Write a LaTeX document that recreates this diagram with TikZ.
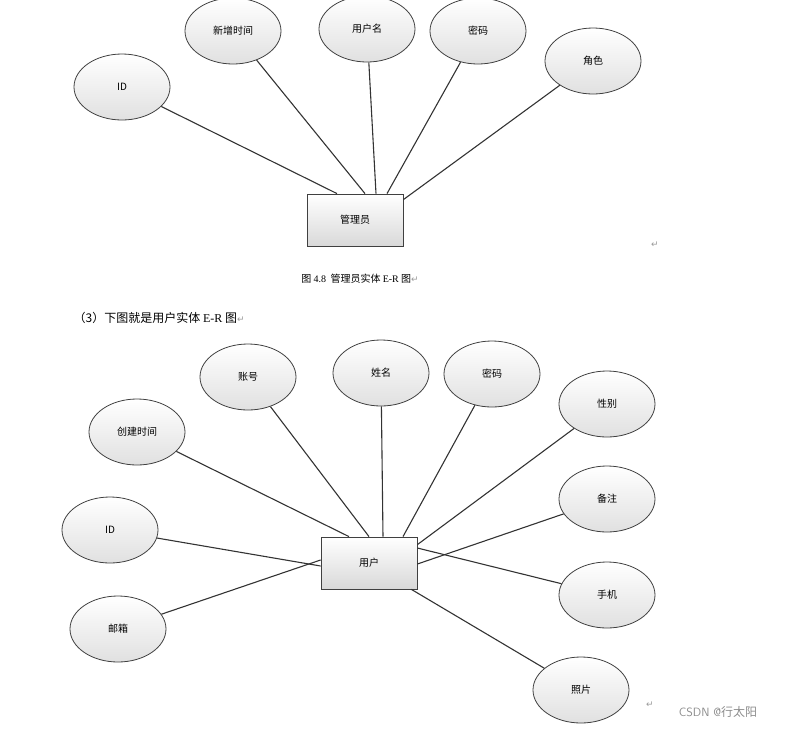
\documentclass[tikz,border=0pt]{standalone}
\usepackage{fontspec}
\newfontfamily\cjk{Noto Sans CJK SC}
\newfontfamily\dejavu{DejaVu Sans}
\setmainfont{Liberation Serif}
\usetikzlibrary{shapes.geometric}
\newcommand{\retsym}{\textcolor{black!40}{\dejavu\small ↵}}

\begin{document}
\begin{tikzpicture}[x=1pt, y=-1pt, thick, every node/.style={font=\cjk}]
    \tikzstyle{attr}=[ellipse, minimum width=96pt, minimum height=66pt, draw=black!75, top color=white, bottom color=black!12]
    \tikzstyle{entity}=[rectangle, minimum width=96pt, minimum height=52pt, draw=black!75, top color=white, bottom color=black!15]
    \tikzstyle{link}=[draw=black!80, line width=1.1pt]
    \useasboundingbox (0,0) rectangle (788,729);

    % Admin entity
    \node[entity] (A) at (355,220) {管理员};
    \node[attr] (A-id) at (122,87) {ID};
    \node[attr] (A-time) at (233,31) {新增时间};
    \node[attr] (A-name) at (367,29) {用户名};
    \node[attr] (A-pwd) at (478,31) {密码};
    \node[attr] (A-role) at (593,61) {角色};

    \draw[link] (A-id) -- ([xshift=-18pt]A.north);
    \draw[link] (A-time) -- ([xshift=10pt]A.north);
    \draw[link] (A-name) -- ([xshift=21pt]A.north);
    \draw[link] (A-pwd) -- ([xshift=32pt]A.north);
    \draw[link] (A-role) -- ([yshift=-6pt]A.north east);

    % Captions
    \node (cap) at (360,279) {\cjk 图 \rmfamily 4.8\cjk\ \ 管理员实体 \rmfamily E-R\cjk\ 图\retsym};
    \node[anchor=west, font=\cjk\large] (head) at (70,318) {\cjk （3）下图就是用户实体 \rmfamily E-R\cjk\ 图\retsym};
    \node (ret1) at (655,245) {\retsym};

    % User entity
    \node[entity] (U) at (369,563) {用户};
    \node[attr] (U-acc) at (248,377) {账号};
    \node[attr] (U-name) at (381,373) {姓名};
    \node[attr] (U-pwd) at (492,374) {密码};
    \node[attr] (U-sex) at (607,404) {性别};
    \node[attr] (U-time) at (137,432) {创建时间};
    \node[attr] (U-note) at (607,499) {备注};
    \node[attr] (U-id) at (110,530) {ID};
    \node[attr] (U-phone) at (607,595) {手机};
    \node[attr] (U-mail) at (118,629) {邮箱};
    \node[attr] (U-photo) at (581,690) {照片};

    \draw[link] (U-acc) -- ([xshift=0pt]U.north);
    \draw[link] (U-name) -- ([xshift=14pt]U.north);
    \draw[link] (U-pwd) -- ([xshift=34pt]U.north);
    \draw[link] (U-sex) -- ([yshift=-8pt]U.north east);
    \draw[link] (U-time) -- ([xshift=-20pt]U.north);
    \draw[link] (U-note) -- ([yshift=-1pt]U.east);
    \draw[link] (U-id) -- ([yshift=-3pt]U.west);
    \draw[link] (U-phone) -- ([yshift=15pt]U.east);
    \draw[link] (U-mail) -- ([yshift=3pt]U.west);
    \draw[link] (U-photo) -- ([xshift=-6pt]U.south east);

    \node (ret2) at (650,705) {\retsym};
    \node[text=black!45, font=\cjk\large] (wm) at (718,712) {\sffamily CSDN @\cjk 行太阳};
\end{tikzpicture}
\end{document}
